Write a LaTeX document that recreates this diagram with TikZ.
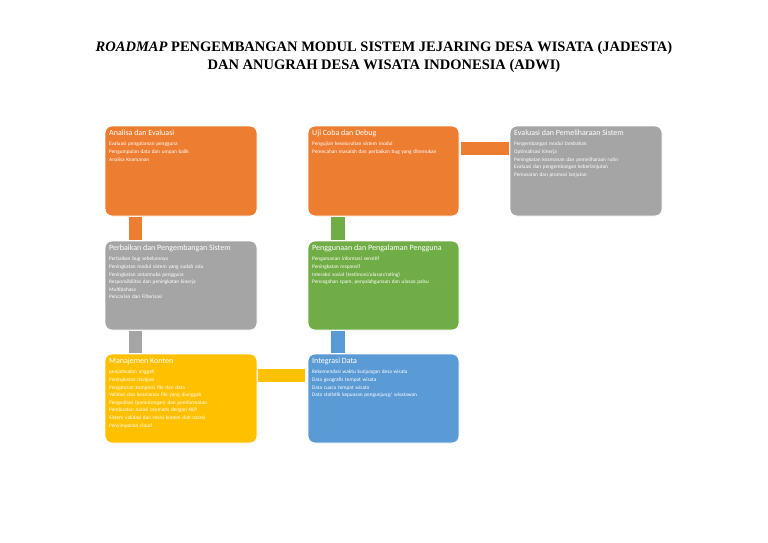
\documentclass[tikz,border=0pt]{standalone}
\usepackage{fontspec}
\setmainfont{Liberation Serif}
\newfontfamily\calfnt{Carlito}
\definecolor{cor}{HTML}{ED7D31}
\definecolor{cgr}{HTML}{A5A5A5}
\definecolor{cgn}{HTML}{70AD47}
\definecolor{cye}{HTML}{FFC000}
\definecolor{cbl}{HTML}{5B9BD5}
\newcommand\mkcard[9]{%
 \filldraw[card,fill=#1] (#2,#3) rectangle (#4,#5);
 \node[hd] (#6h) at (#2+4,#3+4) {#7};
 \node[txt] (#6) at (#2+4,#3+16) {#8};}
\begin{document}
\begin{tikzpicture}[x=1pt,y=-1pt,
  card/.style={rounded corners=7pt,draw=white,line width=0.8pt},
  txt/.style={anchor=north west,text=white,align=left,inner sep=0pt,font=\calfnt\fontsize{5.3}{7.6}\selectfont,text width=140pt},
  hd/.style={anchor=north west,text=white,inner sep=0pt,font=\calfnt\fontsize{8}{9}\selectfont}]
\useasboundingbox (0,0) rectangle (768,543);
\node[font=\bfseries\fontsize{14.5}{17.5}\selectfont,align=center] (title) at (384,57)
 {\textit{ROADMAP} PENGEMBANGAN MODUL SISTEM JEJARING DESA WISATA (JADESTA)\\DAN ANUGRAH DESA WISATA INDONESIA (ADWI)};
% connectors
\fill[cor] (129,217) rectangle (142,240);
\fill[cgn] (331,217) rectangle (345,240);
\fill[cor] (461,142) rectangle (509,155);
\fill[cgr] (129,331) rectangle (142,353);
\fill[cbl] (331,331) rectangle (345,353);
\fill[cye] (258,369) rectangle (305,382);
% cards
\mkcard{cor}{105}{126}{257}{216}{a}{Analisa dan Evaluasi}{Evaluasi pengalaman pengguna\\Pengumpulan data dan umpan balik\\Analisa Keamanan}{}
\mkcard{cor}{308}{126}{459}{216}{b}{Uji Coba dan Debug}{Pengujian keseluruhan sistem modul\\Pemecahan masalah dan perbaikan bug yang ditemukan}{}
\mkcard{cgr}{510}{126}{662}{216}{c}{Evaluasi dan Pemeliharaan Sistem}{Pengembangan modul tambahan\\Optimalisasi kinerja\\Peningkatan keamanan dan pemeliharaan rutin\\Evaluasi dan pengembangan keberlanjutan\\Pemasaran dan promosi lanjutan}{}
\mkcard{cgr}{105}{241}{257}{330}{d}{Perbaikan dan Pengembangan Sistem}{Perbaikan bug sebelumnya\\Peningkatan modul sistem yang sudah ada\\Peningkatan antarmuka pengguna\\Responsibilitas dan peningkatan kinerja\\Multibahasa\\Pencarian dan Filterisasi}{}
\mkcard{cgn}{308}{241}{459}{330}{e}{Penggunaan dan Pengalaman Pengguna}{Pengamanan informasi sensitif\\Peningkatan responsif\\Interaksi sosial (testimoni/ulasan/rating)\\Pencegahan spam, penyalahgunaan dan ulasan palsu}{}
\mkcard{cye}{105}{354}{257}{443}{f}{Manajemen Konten}{penjadwalan unggah\\Peningkatan navigasi\\Pengaturan kompresi file dan data\\Validasi dan keamanan file yang diunggah\\Pengeditan (pemotongan) dan pemformatan\\Pembuatan narasi otomatis dengan NLP\\Sistem validasi dan revisi konten dan narasi\\Penyimpanan cloud}{}
\mkcard{cbl}{308}{354}{459}{443}{g}{Integrasi Data}{Rekomendasi waktu kunjungan desa wisata\\Data geografis tempat wisata\\Data cuaca tempat wisata\\Data statistik kepuasan pengunjung/ wisatawan}{}
\end{tikzpicture}
\end{document}
